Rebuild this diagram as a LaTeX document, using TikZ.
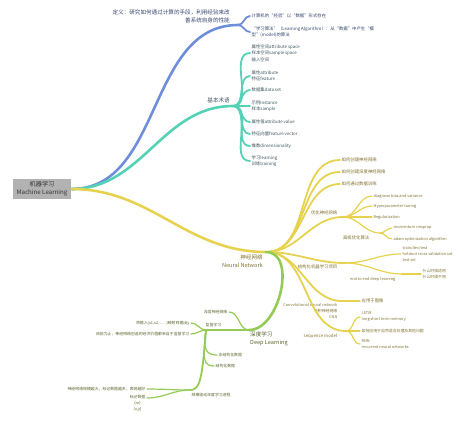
\documentclass[tikz,border=0pt]{standalone}
\usepackage{fontspec}
\setmainfont{Noto Sans CJK SC}
\definecolor{cblu}{HTML}{6E8EDB}\definecolor{ctea}{HTML}{55D2B6}
\definecolor{cyel}{HTML}{E6D24E}\definecolor{cgrn}{HTML}{93CB55}
\definecolor{tblu}{HTML}{34466C}\definecolor{ttea}{HTML}{3E5660}
\definecolor{tyel}{HTML}{7F7230}\definecolor{tgrn}{HTML}{56652C}
\begin{document}
\begin{tikzpicture}[x=1bp,y=-1bp,line cap=round,
  br/.style={line width=2.6pt},tw/.style={line width=1.8pt},lv/.style={line width=1.2pt},
  lb/.style={inner sep=0pt,align=right,font=\fontsize{5.6}{7.4}\selectfont},
  lf/.style={inner sep=0pt,inner xsep=1.5pt,anchor=west,align=left,font=\fontsize{4.4}{6.4}\selectfont},
  sm/.style={lf,font=\fontsize{3.9}{6}\selectfont}]
\useasboundingbox(0,0)rectangle(474,425);
\node[fill=black!30,text=black!80,minimum width=59,minimum height=21,inner sep=0pt,align=center,
  font=\fontsize{6.2}{8}\selectfont](ml)at(42,189){机器学习\\Machine Learning};
% blue
\coordinate(bh)at(238,25);
\draw[br,cblu](ml.east)to[out=0,in=180](bh);
\node[lb,tblu,anchor=south east](def)at(230,23){定义：研究如何通过计算的手段，利用经验来改\\善系统自身的性能};
\node[lf,tblu](b1)at(250,16){计算机的“经验”以“数据”形式存在};
\node[lf,tblu](b2)at(250,32){“学习算法”（Learning Algorithm）：从“数据”中产生“模\\型”(model)的算法};
\foreach\n in{1,2}\draw[tw,cblu](bh)to[out=0,in=180](b\n.west);
% teal
\coordinate(th)at(233,106);
\draw[br,ctea](ml.east)to[out=0,in=180](th);
\node[lb,ttea,anchor=south east](jb)at(230,103){基本术语};
\node[lf,ttea](t1)at(250,53){属性空间attribute space\\样本空间sample space\\输入空间};
\node[lf,ttea](t2)at(250,76){属性attribute\\特征feature};
\node[lf,ttea](t3)at(250,90){数据集data set};
\node[lf,ttea](t4)at(250,106){示例instance\\样本sample};
\node[lf,ttea](t5)at(250,122){属性值attribute value};
\node[lf,ttea](t6)at(250,134){特征向量feature vector};
\node[lf,ttea](t7)at(250,146){维数dimensionality};
\node[lf,ttea](t8)at(250,161){学习learning\\训练training};
\foreach\n in{1,...,8}\draw[tw,ctea](th)to[out=0,in=180](t\n.west);
% yellow
\coordinate(yh)at(266,252);
\draw[br,cyel](ml.east)to[out=0,in=180](yh);
\node[lb,tyel,anchor=north east](nn)at(263,255){神经网络\\Neural Network};
\node[lf,tyel](y1)at(340,160){如何创建神经网络};
\node[lf,tyel](y2)at(340,172){如何创建深度神经网络};
\node[lf,tyel](y3)at(340,184){如何通过数据训练};
\foreach\n in{1,2,3}\draw[tw,cyel](yh)to[out=0,in=180](y\n.west);
\coordinate(yo)at(343,217);\node[lf,tyel,anchor=south east](yol)at(339,215){优化神经网络};
\coordinate(ya)at(380,233);\node[lf,tyel,anchor=north east](yal)at(371,236){高级优化算法};
\node[sm,tyel](o1)at(372,196){diagnose bias and variance};
\node[sm,tyel](o2)at(372,206){Hyperparameter tuning};
\node[sm,tyel](o3)at(372,217){Regularization};
\node[sm,tyel](a1)at(392,228){momentum rmsprop};
\node[sm,tyel](a2)at(392,239){adam optimization algorithm};
\draw[tw,cyel](yh)to[out=0,in=180](yo);
\foreach\n in{1,2,3}\draw[lv,cyel](yo)to[out=0,in=180](o\n.west);
\draw[lv,cyel](yo)to[out=0,in=180](ya);
\foreach\n in{1,2}\draw[lv,cyel](ya)to[out=0,in=180](a\n.west);
\coordinate(ys)at(345,263);\node[lf,tyel,anchor=north east](ysl)at(339,265){结构化机器学习项目};
\coordinate(ye)at(402,274);\node[sm,tyel,anchor=north east](yel)at(397,277){end to end deep learning};
\node[sm,tyel](s1)at(401,254){train/dev/test\\holdout cross validation set\\test set};
\node[sm,tyel](e1)at(421,274){什么时候适用\\什么时候不用};
\draw[tw,cyel](yh)to[out=0,in=180](ys);
\draw[lv,cyel](ys)to[out=0,in=180](s1.west);\draw[lv,cyel](ys)to[out=0,in=180](ye);
\draw[lv,cyel](ye)--(e1.west);
\coordinate(yc)at(342,301);
\node[sm,tyel,anchor=north east,align=right](ycl)at(339,303){Convolutional neural network\\卷积神经网络\\CNN};
\node[lf,tyel](c1)at(360,301){应用于图像};
\draw[tw,cyel](yh)to[out=0,in=180](yc);\draw[lv,cyel](yc)--(c1.west);
\coordinate(yq)at(346,331);\node[lf,tyel,anchor=north east](yql)at(339,334){sequence model};
\node[sm,tyel](q1)at(360,317){LSTM\\long short term memory};
\node[sm,tyel](q2)at(360,331){如何应用于自然语言处理及其他问题};
\node[sm,tyel](q3)at(360,344){RNN\\recurrent neural networks};
\draw[tw,cyel](yh)to[out=0,in=180](yq);
\foreach\n in{1,2,3}\draw[lv,cyel](yq)to[out=0,in=180](q\n.west);
% green
\coordinate(gh)at(249,330);
\draw[br,cgrn](yh)to[out=0,in=0](gh);
\node[lb,tgrn,anchor=north west,align=left](dl)at(250,332){深度学习\\Deep Learning};
\node[sm,tgrn,anchor=east](g1)at(229,312){浅层神经网络};
\draw[lv,cgrn](gh)to[out=180,in=0](g1.east);
\coordinate(gs)at(206,330);\node[sm,tgrn,anchor=south west](gsl)at(204,327){监督学习};
\draw[tw,cgrn](gh)--(gs);
\node[sm,tgrn,anchor=east](g2)at(191,323){将输入(x1,x2……)映射到输出y};
\node[sm,tgrn,anchor=east](g3)at(191,334){目前为止，神经网络创造的经济价值都来自于监督学习};
\foreach\n in{2,3}\draw[lv,cgrn](gs)to[out=180,in=0](g\n.east);
\node[sm,tgrn](g4)at(217,355){非结构化数据};
\node[sm,tgrn](g5)at(214,366){结构化数据};
\draw[lv,cgrn](gs)..controls+(-4,20)and+(-10,0)..(g4.west);
\draw[lv,cgrn](gs)..controls+(-4,30)and+(-10,0)..(g5.west);
\coordinate(gm)at(190,390);\node[sm,tgrn,anchor=north west](gml)at(190,393){规模驱动深度学习进程};
\draw[tw,cgrn](gs)..controls+(-4,50)and+(10,0)..(gm);
\node[sm,tgrn,anchor=east](m1)at(147,389){神经网络规模越大，标记数据越多，表现越好};
\node[sm,tgrn,anchor=north east,align=center](m2)at(147,395){标记数据\\(m)\\(x,y)};
\draw[lv,cgrn](gm)to[out=180,in=0](m1.east);
\draw[lv,cgrn](gm)to[out=180,in=0]([yshift=-3bp]m2.north east);
\end{tikzpicture}
\end{document}
